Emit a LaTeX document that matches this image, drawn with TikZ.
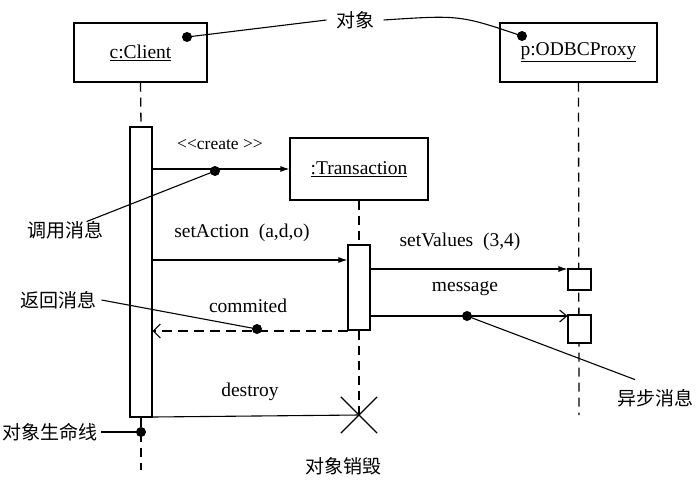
\documentclass[tikz,border=0pt]{standalone}
\usepackage{fontspec}
\setmainfont{Liberation Serif}
\newfontfamily\cjk{Noto Sans CJK SC}
\usetikzlibrary{arrows.meta,positioning,shapes.misc}

\begin{document}
\begin{tikzpicture}[x=1pt,y=-1pt,line width=1.1pt,
    font=\fontsize{19.5}{22}\selectfont,
    obj/.style={draw,fill=white,inner sep=0pt},
    act/.style={draw,fill=white,minimum width=22pt,inner sep=0pt},
    life/.style={dash pattern=on 9pt off 6pt,line width=1.3pt},
    dot/.style={circle,fill,inner sep=0pt,minimum size=10pt},
    note/.style={font=\cjk\fontsize{19}{21}\selectfont,inner sep=1pt},
    call/.style={-{Latex[length=9pt,width=6pt]}},
    async/.style={-{Straight Barb[length=7pt,width=12pt]}},
    back/.style={dashed,dash pattern=on 10pt off 6pt,-{Straight Barb[length=7pt,width=14pt]}}]
    \useasboundingbox (0,0) rectangle (700,480);

    % objects
    \node[obj,minimum width=133pt,minimum height=59pt] (client) at (140.5,52.5) {\underline{c:Client}};
    \node[obj,minimum width=157pt,minimum height=59pt] (proxy)  at (578.5,52.5) {\underline{p:ODBCProxy}};
    \node[obj,minimum width=138pt,minimum height=62pt] (trans)  at (359,169)    {\underline{:Transaction}};

    % lifelines
    \coordinate (cend) at (141,470);
    \coordinate (pend) at (579,415);
    \node[draw,cross out,minimum size=35pt,inner sep=0pt,line width=1.2pt] (kill) at (359,415) {};
    \draw[life] (proxy.south) -- (pend);

    % activations
    \node[act,minimum height=290pt] (actc) at (141,272) {};
    \node[act,minimum height=85pt]  (actt) at (359,287.5) {};
    \node[act,minimum width=23pt,minimum height=21pt] (box1) at (579.5,279.5) {};
    \node[act,minimum width=23pt,minimum height=28pt] (box2) at (579.5,329) {};
    \draw[life] (client.south) -- (actc.north);
    \draw[life] (actc.south) -- (cend);
    \draw[life] (trans.south) -- (actt.north);
    \draw[life] (actt.south) -- (kill.center);

    % messages
    \coordinate (m1) at (152,169);
    \coordinate (m2) at (152,260);
    \coordinate (m3) at (370,269);
    \coordinate (m4) at (370,316);
    \coordinate (m5) at (348,331);
    \coordinate (m6) at (152,417);
    \draw[call]  (m1) -- (trans.west);
    \draw[call]  (m2) -- (m2 -| actt.west);
    \draw[call]  (m3) -- (m3 -| box1.west);
    \draw[async] (m4) -- (m4 -| box2.west);
    \draw[back]  (m5) -- (m5 -| actc.east);
    \draw        (m6) -- (kill.center);

    \node (lcreate) at (220,145) {\fontsize{17.5}{19}\selectfont<{}<create >{}>};
    \node (lset)    at (242,233) {setAction\ \ (a,d,o)};
    \node (lval)    at (460,242) {setValues\ \ (3,4)};
    \node (lmsg)    at (465,289) {message};
    \node (lcom)    at (248,306) {commited};
    \node (ldes)    at (250,392) {destroy};

    % notes
    \node[note] (nobj)  at (355,20)  {对象};
    \node[note] (ncall) at (65,230)  {调用消息};
    \node[note] (nret)  at (58,300)  {返回消息};
    \node[note] (nlife) at (50,432)  {对象生命线};
    \node[note] (nasyn) at (655,398) {异步消息};
    \node[note] (nkill) at (343,466) {对象销毁};

    \node[dot] (dc) at (187,37)  {};
    \node[dot] (dp) at (522,36)  {};
    \node[dot] (dm) at (215,171) {};
    \node[dot] (dr) at (257,329) {};
    \node[dot] (dl) at (141,432) {};
    \node[dot] (da) at (467,316) {};

    \draw ([xshift=-8pt]nobj.west) -- (dc.center);
    \draw ([xshift=8pt]nobj.east) .. controls (460,15) .. (dp.center);
    \draw ([xshift=-18pt,yshift=-2pt]ncall.north east) -- (dm.center);
    \draw ([xshift=4pt]nret.east) -- (dr.center);
    \draw ([xshift=2pt]nlife.east) -- (dl.center);
    \draw (da.center) -- ([xshift=-20pt,yshift=8pt]nasyn.north);
  \end{tikzpicture}
\end{document}
